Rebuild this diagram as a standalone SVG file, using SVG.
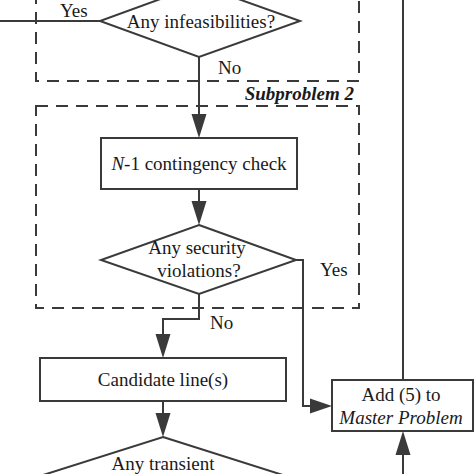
<svg xmlns="http://www.w3.org/2000/svg" width="474" height="474" viewBox="0 0 474 474">
<style>
.shape{fill:#fff;stroke:#3a3a3a;stroke-width:2}
.dash{fill:none;stroke:#3a3a3a;stroke-width:2;stroke-dasharray:12 8}
.wire{fill:none;stroke:#3a3a3a;stroke-width:2}
.head{fill:#3a3a3a;stroke:none}
text{font-family:"Liberation Serif","Times New Roman",serif;font-size:19px;fill:#1a1a1a}
.c{text-anchor:middle}
.it{font-style:italic}
</style>
<rect width="474" height="474" fill="#fff"/>
<g id="subproblem1">
<path class="dash" d="M36,-8 V81 H359 V-8"/>
</g>
<g id="subproblem2">
<rect class="dash" x="36" y="106" width="323" height="202"/>
<text x="354" y="100" text-anchor="end" font-weight="bold" font-style="italic">Subproblem 2</text>
</g>
<g id="connectors">
<path class="wire" d="M0,21 H100"/>
<path class="wire" d="M199,57 V115"/>
<polygon class="head" points="191.5,114 206.5,114 199,138"/>
<path class="wire" d="M199,189 V202"/>
<polygon class="head" points="191.5,201 206.5,201 199,225"/>
<path class="wire" d="M296,260 H303 V406 H311"/>
<polygon class="head" points="310,398.5 310,413.5 332,406"/>
<path class="wire" d="M199,294 V319 H163 V335"/>
<polygon class="head" points="155.5,334 170.5,334 163,358"/>
<path class="wire" d="M163,401 V414"/>
<polygon class="head" points="155.5,413 170.5,413 163,437"/>
<path class="wire" d="M403,0 V380"/>
<path class="wire" d="M403,474 V454"/>
<polygon class="head" points="395.5,455 410.5,455 403,431"/>
<text x="60" y="17" font-size="18">Yes</text>
<text x="218" y="74">No</text>
<text x="320" y="276">Yes</text>
<text x="210" y="329">No</text>
</g>
<g id="infeasibility">
<polygon class="shape" points="199,-15 300,21 199,57 100,21"/>
<text class="c" x="201" y="28">Any infeasibilities?</text>
</g>
<g id="n1check">
<rect class="shape" x="101" y="138" width="196" height="51"/>
<text class="c" x="199" y="170"><tspan class="it">N</tspan>-1 contingency check</text>
</g>
<g id="security">
<polygon class="shape" points="199,225 296,260 199,294 101,260"/>
<text class="c" x="197" y="254">Any security</text>
<text class="c" x="199" y="277">violations?</text>
</g>
<g id="candidate">
<rect class="shape" x="40" y="358" width="246" height="43"/>
<text class="c" x="163" y="386">Candidate line(s)</text>
</g>
<g id="transient">
<polygon class="shape" points="163,437 286,476 163,515 40,476"/>
<text class="c" x="163" y="470">Any transient</text>
</g>
<g id="addmaster">
<rect class="shape" x="332" y="380" width="141" height="51"/>
<text class="c" x="401" y="401">Add (5) to</text>
<text class="c it" x="401" y="424">Master Problem</text>
</g>
</svg>
